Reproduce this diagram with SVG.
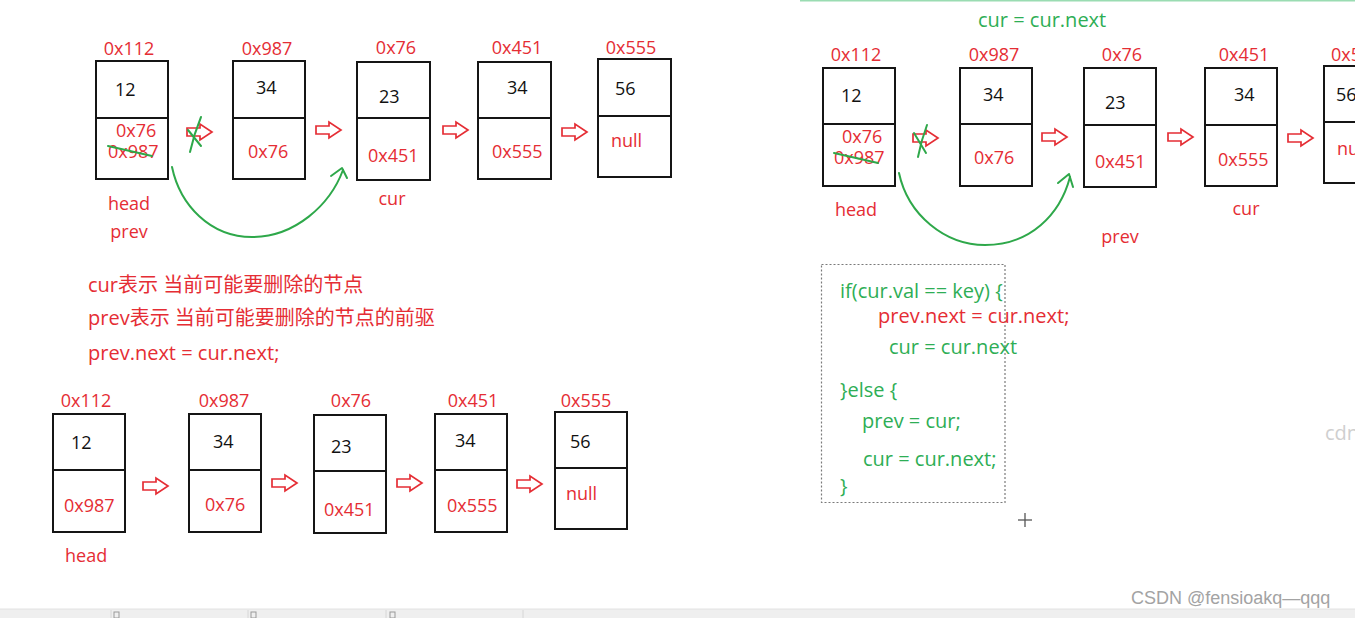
<svg xmlns="http://www.w3.org/2000/svg" width="1355" height="618" viewBox="0 0 1355 618">
<style>
.bg{fill:#fff}
.box{fill:#fff;stroke:#151515;stroke-width:2}
.dv{stroke:#151515;stroke-width:2}
.t{font-family:"Open Sans","Noto Sans CJK SC",sans-serif;font-size:18px}
.r{fill:#e52d34}
.k{fill:#111}
.g{fill:#2eae55}
.big{font-size:20px}
.mid{text-anchor:middle}
.arr{fill:#fff;stroke:#e52d34;stroke-width:1.7;stroke-linejoin:miter}
.gl{fill:none;stroke:#2ea84a;stroke-width:2;stroke-linecap:round;stroke-linejoin:round}
.dash{fill:none;stroke:#7a7a7a;stroke-width:1.2;stroke-dasharray:2,2}
</style>
<defs>
<path id="ar" d="M0,-4 H13 V-8 L25,0 L13,8 V4 H0 Z"/>
</defs>
<rect class="bg" x="0" y="0" width="1355" height="618"/>
<line x1="800" y1="0.8" x2="1355" y2="0.8" stroke="#9adcb2" stroke-width="1.6"/>

<!-- ===== Top-left list ===== -->
<g id="tl-n1">
<rect class="box" x="96" y="61" width="72" height="118"/>
<line class="dv" x1="95" y1="118" x2="168" y2="118"/>
<text class="t r mid" x="129" y="55">0x112</text>
<text class="t k" x="115" y="96">12</text>
<text class="t r" x="116" y="137">0x76</text>
<text class="t r" x="108" y="158">0x987</text>
<text class="t r mid" x="129" y="210">head</text>
<text class="t r mid" x="129" y="238">prev</text>
</g>
<g id="tl-n2">
<rect class="box" x="233" y="61" width="72" height="118"/>
<line class="dv" x1="232" y1="118" x2="305" y2="118"/>
<text class="t r mid" x="267" y="55">0x987</text>
<text class="t k" x="256" y="94">34</text>
<text class="t r" x="248" y="158">0x76</text>
</g>
<g id="tl-n3">
<rect class="box" x="357" y="62" width="73" height="118"/>
<line class="dv" x1="357" y1="118" x2="430" y2="118"/>
<text class="t r mid" x="396" y="54">0x76</text>
<text class="t k" x="379" y="103">23</text>
<text class="t r" x="368" y="162">0x451</text>
<text class="t r mid" x="392" y="205">cur</text>
</g>
<g id="tl-n4">
<rect class="box" x="478" y="62" width="73" height="117"/>
<line class="dv" x1="478" y1="118" x2="551" y2="118"/>
<text class="t r mid" x="517" y="54">0x451</text>
<text class="t k" x="507" y="94">34</text>
<text class="t r" x="492" y="158">0x555</text>
</g>
<g id="tl-n5">
<rect class="box" x="598" y="59" width="73" height="118"/>
<line class="dv" x1="598" y1="116" x2="671" y2="116"/>
<text class="t r mid" x="631" y="54">0x555</text>
<text class="t k" x="615" y="95">56</text>
<text class="t r" x="611" y="147">null</text>
</g>

<!-- ===== Notes ===== -->
<g id="notes">
<text class="t r big" x="88" y="292">cur表示 当前可能要删除的节点</text>
<text class="t r big" x="88" y="325">prev表示 当前可能要删除的节点的前驱</text>
<text class="t r big" x="88" y="360">prev.next = cur.next;</text>
</g>

<!-- ===== Bottom-left list ===== -->
<g id="bl-n1">
<rect class="box" x="53" y="414" width="72" height="118"/>
<line class="dv" x1="53" y1="470" x2="125" y2="470"/>
<text class="t r mid" x="86" y="407">0x112</text>
<text class="t k" x="71" y="449">12</text>
<text class="t r" x="64" y="512">0x987</text>
<text class="t r" x="65" y="562">head</text>
</g>
<g id="bl-n2">
<rect class="box" x="189" y="414" width="72" height="118"/>
<line class="dv" x1="189" y1="470" x2="261" y2="470"/>
<text class="t r mid" x="224" y="407">0x987</text>
<text class="t k" x="213" y="448">34</text>
<text class="t r" x="205" y="511">0x76</text>
</g>
<g id="bl-n3">
<rect class="box" x="314" y="415" width="72" height="118"/>
<line class="dv" x1="314" y1="471" x2="386" y2="471"/>
<text class="t r mid" x="351" y="407">0x76</text>
<text class="t k" x="331" y="453">23</text>
<text class="t r" x="324" y="516">0x451</text>
</g>
<g id="bl-n4">
<rect class="box" x="435" y="414" width="72" height="118"/>
<line class="dv" x1="435" y1="470" x2="507" y2="470"/>
<text class="t r mid" x="473" y="407">0x451</text>
<text class="t k" x="455" y="447">34</text>
<text class="t r" x="447" y="512">0x555</text>
</g>
<g id="bl-n5">
<rect class="box" x="555" y="412" width="72" height="117"/>
<line class="dv" x1="555" y1="468" x2="627" y2="468"/>
<text class="t r mid" x="586" y="407">0x555</text>
<text class="t k" x="570" y="448">56</text>
<text class="t r" x="566" y="500">null</text>
</g>

<!-- ===== Top-right list ===== -->
<g id="tr-title">
<text class="t g big" x="978" y="27">cur = cur.next</text>
</g>
<g id="tr-n1">
<rect class="box" x="823" y="68" width="72" height="118"/>
<line class="dv" x1="822" y1="124" x2="895" y2="124"/>
<text class="t r mid" x="856" y="61">0x112</text>
<text class="t k" x="841" y="102">12</text>
<text class="t r" x="842" y="143">0x76</text>
<text class="t r" x="834" y="164">0x987</text>
<text class="t r mid" x="856" y="216">head</text>
</g>
<g id="tr-n2">
<rect class="box" x="960" y="68" width="72" height="118"/>
<line class="dv" x1="959" y1="124" x2="1032" y2="124"/>
<text class="t r mid" x="994" y="61">0x987</text>
<text class="t k" x="983" y="101">34</text>
<text class="t r" x="974" y="164">0x76</text>
</g>
<g id="tr-n3">
<rect class="box" x="1084" y="68" width="72" height="119"/>
<line class="dv" x1="1084" y1="125" x2="1156" y2="125"/>
<text class="t r mid" x="1122" y="61">0x76</text>
<text class="t k" x="1105" y="109">23</text>
<text class="t r" x="1095" y="168">0x451</text>
<text class="t r mid" x="1120" y="243">prev</text>
</g>
<g id="tr-n4">
<rect class="box" x="1205" y="68" width="72" height="118"/>
<line class="dv" x1="1204" y1="125" x2="1277" y2="125"/>
<text class="t r mid" x="1244" y="61">0x451</text>
<text class="t k" x="1234" y="101">34</text>
<text class="t r" x="1218" y="166">0x555</text>
<text class="t r mid" x="1246" y="215">cur</text>
</g>
<g id="tr-n5">
<rect class="box" x="1324" y="66" width="72" height="117"/>
<line class="dv" x1="1324" y1="122" x2="1396" y2="122"/>
<text class="t r" x="1331" y="61">0x555</text>
<text class="t k" x="1336" y="101">56</text>
<text class="t r" x="1337" y="155">null</text>
</g>

<!-- ===== Code block ===== -->
<g id="code">
<rect class="dash" x="821.5" y="264.5" width="183.5" height="238"/>
<text class="t g big" x="840" y="298">if(cur.val == key) {</text>
<text class="t r big" x="878" y="323">prev.next = cur.next;</text>
<text class="t g big" x="889" y="354">cur = cur.next</text>
<text class="t g big" x="840" y="397">}else {</text>
<text class="t g big" x="862" y="428">prev = cur;</text>
<text class="t g big" x="863" y="466">cur = cur.next;</text>
<text class="t g big" x="840" y="493">}</text>
</g>

<!-- ===== Connectors ===== -->
<g id="connectors">
<use href="#ar" class="arr" x="187" y="132"/>
<use href="#ar" class="arr" x="316" y="130"/>
<use href="#ar" class="arr" x="443" y="130"/>
<use href="#ar" class="arr" x="562" y="132"/>

<use href="#ar" class="arr" x="143" y="486"/>
<use href="#ar" class="arr" x="272" y="483"/>
<use href="#ar" class="arr" x="397" y="483"/>
<use href="#ar" class="arr" x="517" y="484"/>

<use href="#ar" class="arr" x="913" y="138"/>
<use href="#ar" class="arr" x="1042" y="137"/>
<use href="#ar" class="arr" x="1168" y="137"/>
<use href="#ar" class="arr" x="1288" y="138"/>

<!-- green strikes and crosses -->
<path class="gl" d="M108,146 L152,156"/>
<path class="gl" d="M201,117 Q194,134 190,152"/>
<path class="gl" d="M188,130 L201,146"/>
<path class="gl" d="M172,167 C180,205 210,237 252,237 C295,237 330,205 343,170"/>
<path class="gl" d="M331,176 L342,168 L347,178"/>

<path class="gl" d="M834,153 L878,163"/>
<path class="gl" d="M927,125 Q921,141 918,157"/>
<path class="gl" d="M914,133 L926,153"/>
<path class="gl" d="M899,173 C908,215 945,245 985,245 C1030,245 1060,215 1070,177"/>
<path class="gl" d="M1058,183 L1069,174 L1073,187"/>
</g>

<!-- faint text at right -->
<text x="1325" y="440" font-family="'Open Sans',sans-serif" font-size="20" fill="#cfcfcf">cdn</text>

<!-- cursor -->
<g id="cursor" stroke="#555" stroke-width="1.3">
<line x1="1025" y1="513" x2="1025" y2="527"/>
<line x1="1018" y1="520" x2="1032" y2="520"/>
</g>

<!-- status bar -->
<g id="statusbar">
<rect x="0" y="609" width="1355" height="9" fill="#efefef"/>
<line x1="0" y1="609" x2="1355" y2="609" stroke="#e2e2e2"/>
<line x1="111" y1="610" x2="111" y2="618" stroke="#d6d6d6"/>
<line x1="248" y1="610" x2="248" y2="618" stroke="#d6d6d6"/>
<line x1="386" y1="610" x2="386" y2="618" stroke="#d6d6d6"/>
<line x1="523" y1="610" x2="523" y2="618" stroke="#d6d6d6"/>
<rect x="114" y="612" width="5" height="6" fill="none" stroke="#999"/>
<rect x="251" y="612" width="5" height="6" fill="none" stroke="#999"/>
<rect x="390" y="612" width="5" height="6" fill="none" stroke="#999"/>
</g>

<text x="1131" y="604" font-family="'Liberation Sans',Arial,sans-serif" font-size="18" fill="#a3a3a3">CSDN @fensioakq—qqq</text>
</svg>
